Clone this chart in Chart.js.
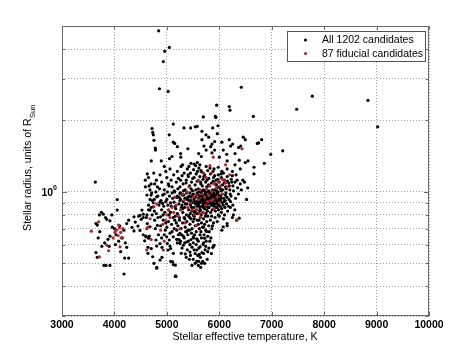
<!DOCTYPE html>
<html>
<head>
<meta charset="utf-8">
<script src="https://cdn.jsdelivr.net/npm/chart.js@4/dist/chart.umd.min.js"></script>
<style>
html,body{margin:0;padding:0;background:#fff;}
#wrap{width:474px;height:355px;position:relative;}
</style>
</head>
<body>
<div id="wrap"><canvas id="c" width="474" height="355"></canvas></div>
<script>
// ---- tick / axis values ----
const xTickValues = [3000, 4000, 5000, 6000, 7000, 8000, 9000, 10000];
const yGridValues = [0.3, 0.4, 0.5, 0.6, 0.7, 0.8, 0.9, 1, 2, 3, 4, 5];
const yLabelValues = [1];
const xTitle = "Stellar effective temperature, K";
const yTitleMain = "Stellar radius, units of R";
const yTitleSub = "Sun";
const legendLabels = ["All 1202 candidates", "87 fiducial candidates"];

// ---- data: [Teff (K), radius (R_Sun)] ----
const outlierStars = [
[4844,4.77],[4959,3.91],[5047,4.06],[4933,3.54],[4859,2.72],[5025,2.65],[6420,2.76],[7775,2.53],[7476,2.23],
[8836,2.43],[9021,1.88],[3636,1.10],[4183,0.451],[5168,0.443]
];
const upperStars = [
[5950,2.32],[6190,2.29],[6204,2.21],[5695,2.07],[5925,2.08],[5937,2.06],[6650,2.08],[4717,1.85],[4730,1.78],
[4742,1.74],[4754,1.65],[4780,1.53],[4782,1.50],[5123,1.93],[5327,1.86],[5454,1.86],[5543,1.88],[5581,1.89],
[5670,1.80],[5874,1.86],[5975,1.90],[5962,1.76],[5746,1.74],[5797,1.70],[5046,1.74],[5123,1.62],[6457,1.70],
[6496,1.66],[6190,1.66],[5670,1.66],[5860,1.59],[5912,1.63],[5836,1.55],[5708,1.56],[6217,1.56],[6255,1.59],
[6076,1.50],[6370,1.54],[6408,1.56],[6750,1.61],[6808,1.66],[6725,1.60],[6980,1.44],[7210,1.49],[6860,1.32],
[6662,1.27],[6662,1.19],[6542,1.04],[5263,1.45],[5265,1.40],[5098,1.41],[5607,1.45],[5657,1.41],[5860,1.46],
[5912,1.50],[6141,1.44],[6381,1.36],[6496,1.33],[6547,1.35],[4703,1.35],[4894,1.35],[5460,1.32],[5520,1.31],
[5580,1.33],[5630,1.30],[5050,1.38],[5400,1.52],[5200,1.55],[5750,1.50],[6000,1.40],[6300,1.30],[6150,1.35],
[5300,1.30],[4950,1.28],[6400,1.25],[6250,1.22],[5150,1.60],[6050,1.62],[6300,1.45]
];
const bandStars = [
[4650,1.15],[4700,1.08],[4750,1.20],[4800,1.12],[4820,1.05],[4870,1.18],[4900,1.10],[4950,1.02],[4980,1.22],
[5000,1.15],[5030,1.08],[5060,1.25],[5080,1.12],[5100,1.05],[5130,1.18],[5150,1.00],[5180,1.10],[5200,1.22],
[5220,1.14],[5250,1.05],[5270,1.28],[5290,1.17],[5310,1.08],[5330,1.20],[5350,1.02],[5370,1.12],[5390,1.25],
[5410,1.16],[5430,1.06],[5450,1.20],[5470,1.10],[5490,1.01],[5510,1.24],[5520,1.15],[5540,1.07],[5560,1.19],
[5580,1.11],[5600,1.03],[5610,1.26],[5630,1.16],[5650,1.08],[5670,1.21],[5690,1.13],[5700,1.02],[5720,1.18],
[5740,1.10],[5760,1.05],[5780,1.23],[5800,1.14],[5810,1.06],[5830,1.19],[5850,1.09],[5870,1.02],[5890,1.15],
[5900,1.25],[5920,1.08],[5940,1.12],[5960,1.04],[5980,1.18],[6000,1.10],[6020,1.03],[6040,1.15],[6060,1.07],
[6080,1.20],[6100,1.12],[6120,1.05],[6150,1.16],[6180,1.09],[6200,1.02],[6230,1.13],[6260,1.06],[6300,1.10],
[6350,1.04],[6400,1.08],[5420,1.28],[5750,1.28],[5980,1.27],[6150,1.25],[5880,1.22],[6050,1.22],[5650,1.23],
[5550,1.29],[5720,1.01],[5950,1.01],[6250,1.17],[6320,1.18],[6450,1.12]
];
const coreStars = [
[5305,0.82],[5312,0.91],[5298,0.97],[5338,0.86],[5345,0.94],[5372,0.80],[5385,0.89],[5378,0.99],[5415,0.84],
[5422,0.92],[5428,0.96],[5446,0.81],[5452,0.88],[5458,0.95],[5441,0.99],[5476,0.83],[5484,0.90],[5490,0.97],
[5505,0.80],[5512,0.86],[5518,0.93],[5508,0.98],[5536,0.82],[5544,0.89],[5548,0.95],[5566,0.84],[5572,0.91],
[5578,0.99],[5575,0.87],[5596,0.81],[5603,0.88],[5608,0.94],[5598,0.97],[5626,0.83],[5634,0.90],[5638,0.96],
[5629,0.86],[5655,0.80],[5662,0.87],[5668,0.93],[5660,0.99],[5686,0.82],[5692,0.89],[5697,0.95],[5689,0.91],
[5716,0.85],[5722,0.92],[5728,0.98],[5719,0.88],[5745,0.81],[5752,0.87],[5757,0.94],[5748,0.97],[5755,0.90],
[5776,0.83],[5783,0.89],[5788,0.96],[5779,0.92],[5806,0.86],[5812,0.91],[5816,0.99],[5809,0.94],[5835,0.82],
[5842,0.88],[5848,0.95],[5838,0.97],[5845,0.90],[5866,0.84],[5873,0.90],[5877,0.93],[5869,0.98],[5896,0.87],
[5903,0.92],[5907,0.96],[5899,0.99],[5926,0.83],[5933,0.89],[5937,0.94],[5929,0.97],[5956,0.86],[5962,0.91],
[5966,0.95],[5959,0.99],[5986,0.84],[5993,0.88],[5997,0.93],[5989,0.97],[6016,0.87],[6023,0.92],[6027,0.96],
[6046,0.85],[6053,0.90],[6057,0.98],[6076,0.88],[6083,0.94],[6106,0.86],[6113,0.92],[6117,0.97],[6137,0.89],
[6144,0.95],[6176,0.87],[6184,0.93],[6215,0.91],[6224,0.96],[6258,0.88],[6296,0.84],
[5620,1.00],[5680,1.01],[5740,0.99],[5800,1.01],[5860,1.00],[5920,1.02],[5980,1.00],[6040,1.01],[5700,0.93],
[5830,0.93],[5770,1.00],[5950,0.92],[5890,0.95],[5660,0.96],[5720,0.90],[5870,0.88],[5990,0.91],[5610,0.91],
[5790,0.86],[5940,0.86]
];
const broadCoreStars = [
[5210,1.03],[5235,0.95],[5262,1.12],[5288,0.88],[5318,1.01],[5342,0.77],[5366,1.09],[5392,0.93],[5404,1.18],
[5436,0.78],[5462,1.03],[5494,1.14],[5522,0.77],[5552,1.02],[5584,1.22],[5612,0.76],[5644,1.10],[5676,1.06],
[5706,1.16],[5736,0.79],[5764,1.12],[5796,1.07],[5824,1.26],[5852,0.79],[5884,1.11],[5912,1.17],[5946,1.07],
[5974,1.13],[6006,1.05],[6034,1.19],[6066,1.02],[6094,1.09],[6126,0.99],[6158,1.11],[6192,1.06],[6208,0.98],
[6240,1.10],[6272,1.01],[6310,0.94],[6340,1.12],[6365,0.98],[6420,1.02],[6480,1.10],[6520,0.93],[6160,0.83],
[6210,0.86],[6270,0.80],[6100,0.80],[6040,0.82],[5980,0.80],
[5262,0.99],[5328,0.97],[5470,0.86],[5530,0.91],[5590,0.89],[5650,0.92],[5710,0.96],[5770,0.94],[5826,0.90],
[5880,0.96],[5915,0.89],[5970,0.89],[6030,0.94],[6090,0.91],[6130,1.03],[5760,0.84],[5700,0.86],[5640,0.84],
[5580,0.81],[5520,0.83],[5460,0.92],[5400,0.95],[5350,0.89],[5300,0.85],[5250,0.92]
];
const tailStars = [
[4602,0.651],[4665,0.651],[4576,0.622],[4793,0.627],[4806,0.591],[4640,0.551],[4808,0.481],[4869,0.516],
[4907,0.53],[5022,0.569],[5060,0.591],[5009,0.606],[5073,0.51],[5123,0.494],[5161,0.44],[5123,0.647],
[5187,0.631],[5250,0.669],[5314,0.651],[5378,0.678],[5250,0.606],[5314,0.596],[5378,0.615],[5441,0.599],
[5504,0.61],[5275,0.551],[5352,0.548],[5441,0.558],[5428,0.52],[5504,0.52],[5607,0.51],[5683,0.51],
[5645,0.481],[5569,0.569],[5632,0.587],[5670,0.555],[5504,0.647],[5569,0.634],[5632,0.66],[5721,0.638],
[5759,0.681],[5899,0.596],[5874,0.584],
[5210,0.72],[5240,0.76],[5270,0.70],[5300,0.74],[5330,0.78],[5350,0.71],[5380,0.75],[5400,0.69],[5420,0.79],
[5440,0.73],[5460,0.77],[5480,0.70],[5500,0.75],[5520,0.79],[5540,0.72],[5560,0.68],[5580,0.76],[5600,0.73],
[5620,0.70],[5640,0.78],[5660,0.74],[5680,0.71],[5700,0.77],[5720,0.73],[5740,0.69],[5760,0.75],[5780,0.79],
[5800,0.72],[5830,0.76],[5860,0.70],[5890,0.74],[5920,0.78],[5960,0.75],[6000,0.79],[6080,0.77],[6150,0.72],
[6250,0.78],[6330,0.76],
[5330,0.64],[5400,0.66],[5460,0.63],[5530,0.66],[5600,0.62],[5660,0.64],[5700,0.61],[5780,0.65],[5820,0.62],
[5480,0.585],[5560,0.60],[5740,0.59],[5700,0.55],[5590,0.54],[5520,0.57],[5390,0.57],[5780,0.56],[5600,0.49],
[5720,0.50],[5885,0.587],[6380,0.775],[6150,0.736],[6075,0.713],[6050,0.69],
[5150,0.76],[5190,0.69],[5230,0.63],[5290,0.58],[5340,0.61],[5370,0.53],[5410,0.62],[5450,0.54],[5470,0.67],
[5510,0.64],[5540,0.55],[5570,0.51],[5610,0.58],[5640,0.53],[5650,0.68],[5690,0.60],[5710,0.66],[5730,0.57],
[5750,0.62],[5770,0.52],[5800,0.58],[5810,0.68],[5840,0.64],[5850,0.55],[5870,0.72],[5660,0.50],[5540,0.50],
[5480,0.49],[5620,0.545],[5700,0.71],[5580,0.63],[5430,0.69],[5360,0.68],[5280,0.66],[5200,0.61]
];
const leftStars = [
[4589,1.12],[4627,1.19],[4591,1.05],[4678,1.02],[4768,1.08],[4806,0.953],[4869,0.905],[4920,0.894],[4742,0.865],
[4678,0.838],[4525,0.838],[4487,0.796],[4550,0.78],[4627,0.736],[4678,0.713],[4768,0.76],[4818,0.722],[4882,0.785],
[4933,0.76],[4971,0.69],[4997,0.647],[5046,0.627],[4869,0.606],[4907,0.584],[5073,0.577],[5123,0.551],[5111,0.507],
[5161,0.491],[5174,0.44],[5034,0.838],[5085,0.871],[5136,0.905],[5187,0.947],[5250,0.985],
[4950,0.98],[5000,0.93],[5050,0.96],[5100,0.99],[5020,0.88],[5070,0.82],[5120,0.78],[5170,0.85],[5200,0.81],
[5230,0.89],[5260,0.93],[5180,0.74],[5140,0.70],[5090,0.73],[5030,0.75],[4960,0.82],[4900,0.84],[4850,0.88],
[4800,0.81],[4720,0.92],[4700,0.97],[4650,0.88],[4950,0.66],[5000,0.71],[5060,0.67],[5220,0.66],[5260,0.62],
[5280,0.86],[5240,0.78],
[4620,0.97],[4660,1.06],[4710,0.99],[4760,0.93],[4790,1.00],[4830,0.96],[4860,1.03],[4890,0.92],[4920,0.97],
[4940,0.87],[4980,0.91],[5010,1.00],[5040,1.06],[5070,0.90],[5110,0.94],[5140,1.01],[5160,0.87],[5200,0.96],
[4760,0.83],[4830,0.78],[4880,0.72],[4930,0.80],[4980,0.74],[5040,0.80],[5100,0.68],[5160,0.79],[4720,0.80],
[4780,0.70],[4840,0.66],[4900,0.64]
];
const coolStars = [
[4054,0.929],[3750,0.821],[3788,0.806],[3712,0.80],[3648,0.736],[3673,0.725],[3852,0.766],[3915,0.755],[4054,0.838],
[4234,0.736],[4272,0.76],[4373,0.785],[4463,0.79],[4512,0.766],[4550,0.806],[3915,0.651],[3877,0.631],[3814,0.61],
[4208,0.61],[4234,0.584],[3648,0.555],[3673,0.530],[3800,0.49],[3839,0.49],[3915,0.49],[4195,0.526],[4272,0.526],
[4398,0.746],[4449,0.718],[4335,0.709],[4373,0.685],[4487,0.688],[4550,0.66],[4602,0.647],[4653,0.638],
[4640,0.584],[4703,0.577],[4730,0.533],[4754,0.50],[4806,0.477],[4620,0.80],[4650,0.84],[4700,0.86],[4740,0.90],
[4680,0.93],[4610,0.78],[4000,0.70],[4030,0.66],[4100,0.72],[4150,0.64],[4180,0.69],[3960,0.71],[4080,0.62],
[3720,0.68],[3690,0.64],[3760,0.59],[4120,0.56],[3900,0.59],[4020,0.60],[3950,0.80],[3830,0.78]
];
const fiducialStars = [
[3560,0.683],[3700,0.748],[3712,0.532],[3852,0.597],[3890,0.565],[4040,0.69],[4070,0.655],[4095,0.705],[4120,0.675],
[4160,0.70],[4080,0.725],[4130,0.64],[4010,0.675],[4106,0.587],[3975,0.64],[4615,0.70],[4640,0.71],[4615,0.569],
[4920,0.73],[4970,0.76],[4754,0.865],[4806,0.89],[4933,0.569],[4880,0.69],[4950,0.62],[5000,0.80],[5030,0.84],
[5060,0.78],[5100,0.86],[5130,0.82],[5180,0.88],[5220,0.79],[5260,0.84],[5300,0.98],[5380,1.00],[5330,0.92],
[5400,0.86],[5480,0.84],[5570,0.84],[5695,0.82],[5620,0.81],[5650,0.78],[5530,0.80],[5450,0.90],[5500,0.95],
[5560,0.97],[5600,0.93],[5640,1.02],[5680,0.98],[5720,0.95],[5760,1.03],[5800,0.97],[5840,0.92],[5880,0.93],
[5740,0.88],[5780,0.91],[5820,1.06],[5860,1.00],[5900,1.08],[5940,1.04],[5980,1.10],[6020,1.06],[6060,1.13],
[6090,1.12],[6120,1.09],[6150,1.05],[5960,0.95],[6000,0.90],[6050,0.98],[5822,1.29],[5885,1.40],[6433,1.52],
[6330,0.76],[5700,1.20],[5750,1.15],[5600,1.12],[5420,1.05],[5150,0.95],[5350,0.74],[5250,0.70],[4680,0.77],
[5900,0.85],[6200,1.18],[5850,1.20],[5560,0.72],[6120,1.30],[4700,0.63]
];

const allStars = [].concat(outlierStars, upperStars, bandStars, coreStars, broadCoreStars, tailStars, leftStars, coolStars);
const toXY = arr => arr.map(p => ({x: p[0], y: p[1]}));

const BLACK = '#000000';
const RED = '#a8282e';
const FONT = "'Liberation Sans', Arial, Helvetica, sans-serif";

const decor = {
  id: 'decor',
  afterDraw(chart) {
    const ctx = chart.ctx;
    const a = chart.chartArea;
    const xs = chart.scales.x, ys = chart.scales.y;
    ctx.save();
    // frame
    ctx.strokeStyle = '#6a6a6a';
    ctx.lineWidth = 1;
    ctx.setLineDash([]);
    ctx.strokeRect(Math.round(a.left) + 0.5, Math.round(a.top) + 0.5,
                   Math.round(a.right - a.left) - 1, Math.round(a.bottom - a.top) - 1);
    // tick marks
    ctx.beginPath();
    xTickValues.forEach(v => {
      const px = Math.round(xs.getPixelForValue(v)) + 0.5;
      ctx.moveTo(px, a.bottom); ctx.lineTo(px, a.bottom - 4);
      ctx.moveTo(px, a.top); ctx.lineTo(px, a.top + 4);
    });
    yGridValues.forEach(v => {
      const py = Math.round(ys.getPixelForValue(v)) + 0.5;
      const len = yLabelValues.includes(v) ? 5 : 3;
      ctx.moveTo(a.left, py); ctx.lineTo(a.left + len, py);
      ctx.moveTo(a.right, py); ctx.lineTo(a.right - len, py);
    });
    ctx.stroke();

    ctx.fillStyle = '#000';
    // y tick labels 10^0
    yLabelValues.forEach(v => {
      const py = ys.getPixelForValue(v);
      const exp = Math.round(Math.log10(v));
      ctx.textBaseline = 'middle';
      ctx.textAlign = 'right';
      const sup = String(exp);
      ctx.font = 'bold 7px ' + FONT;
      const supW = ctx.measureText(sup).width;
      const right = a.left - 5;
      ctx.fillText(sup, right, py - 4);
      ctx.font = 'bold 10.5px ' + FONT;
      ctx.fillText('10', right - supW, py + 1);
    });

    // x title
    ctx.font = '10.6px ' + FONT;
    ctx.textAlign = 'center';
    ctx.textBaseline = 'middle';
    ctx.fillText(xTitle, (a.left + a.right) / 2 - 0.5, 337);

    // y title (rotated, with subscript)
    ctx.save();
    ctx.font = '10.6px ' + FONT;
    const mainW = ctx.measureText(yTitleMain).width;
    ctx.font = '7.5px ' + FONT;
    const subW = ctx.measureText(yTitleSub).width;
    const total = mainW + subW;
    ctx.translate(28, 168);
    ctx.rotate(-Math.PI / 2);
    ctx.textAlign = 'left';
    ctx.textBaseline = 'middle';
    ctx.font = '10.6px ' + FONT;
    ctx.fillText(yTitleMain, -total / 2, 0);
    ctx.font = '7.5px ' + FONT;
    ctx.fillText(yTitleSub, -total / 2 + mainW + 0.5, 4.5);
    ctx.restore();

    // legend
    const lx = 287.5, ly = 31.5, lw = 138, lh = 30;
    ctx.fillStyle = '#fff';
    ctx.fillRect(lx, ly, lw, lh);
    ctx.strokeStyle = '#555';
    ctx.strokeRect(lx, ly, lw, lh);
    const rows = [40, 53.5];
    const cols = [BLACK, RED];
    legendLabels.forEach((t, i) => {
      ctx.fillStyle = cols[i];
      ctx.beginPath();
      ctx.arc(305.5, rows[i], 1.6, 0, Math.PI * 2);
      ctx.fill();
      ctx.fillStyle = '#000';
      ctx.font = '10.5px ' + FONT;
      ctx.textAlign = 'left';
      ctx.textBaseline = 'middle';
      ctx.fillText(t, 322, rows[i] + 0.5);
    });
    ctx.restore();
  }
};

new Chart(document.getElementById('c'), {
  type: 'scatter',
  data: {
    datasets: [
      { label: legendLabels[1], data: toXY(fiducialStars), backgroundColor: RED, pointRadius: 1.6, pointBorderWidth: 0, pointHoverRadius: 1.6 },
      { label: legendLabels[0], data: toXY(allStars), backgroundColor: BLACK, pointRadius: 1.6, pointBorderWidth: 0, pointHoverRadius: 1.6 }
    ]
  },
  options: {
    responsive: false,
    animation: false,
    devicePixelRatio: 1,
    layout: { padding: { left: 0, right: 45, top: 26, bottom: 0 } },
    plugins: { legend: { display: false }, tooltip: { enabled: false }, title: { display: false } },
    events: [],
    scales: {
      x: {
        type: 'linear',
        min: 3000, max: 10000,
        afterFit: s => { s.height = 39; },
        afterBuildTicks: s => { s.ticks = xTickValues.map(v => ({value: v})); },
        ticks: { font: { family: FONT, size: 10.5, weight: 'bold' }, color: '#000', padding: 3, maxRotation: 0, autoSkip: false,
                 callback: v => String(v) },
        grid: { color: '#a0a0a0', lineWidth: 1, drawTicks: false },
        border: { display: false, dash: [1, 2] }
      },
      y: {
        type: 'logarithmic',
        min: 0.3, max: 5,
        afterFit: s => { s.width = 62; },
        afterBuildTicks: s => { s.ticks = yGridValues.map(v => ({value: v})); },
        ticks: { display: false },
        grid: { color: '#a0a0a0', lineWidth: 1, drawTicks: false },
        border: { display: false, dash: [1, 2] }
      }
    }
  },
  plugins: [decor]
});
</script>
</body>
</html>
